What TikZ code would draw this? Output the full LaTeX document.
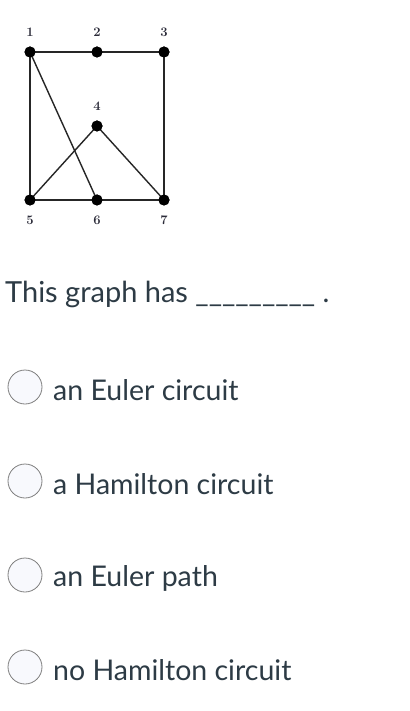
\documentclass[tikz,border=0pt]{standalone}
\usepackage{fontspec}
\setmainfont{Lato}
\newfontfamily\lmfont{Latin Modern Roman}
\definecolor{txt}{HTML}{2D3B45}
\definecolor{radiofill}{HTML}{F8F9FD}
\definecolor{radioedge}{HTML}{7F7F7F}
\definecolor{lbl}{HTML}{2A2A38}
\begin{document}
\begin{tikzpicture}[x=1pt,y=-1pt,
  vtx/.style={circle,fill=black,inner sep=0pt,minimum size=11pt},
  edge/.style={draw=black!85,line width=1.4pt},
  vlabel/.style={font=\lmfont\bfseries\fontsize{13}{15}\selectfont,text=lbl,inner sep=0pt},
  radio/.style={circle,draw=radioedge,fill=radiofill,line width=0.8pt,minimum size=34pt,inner sep=0pt},
  opt/.style={anchor=base west,font=\fontsize{28.5}{32}\selectfont,text=txt,inner sep=0pt},
]
\useasboundingbox (0,0) rectangle (409,711);
\fill[white] (0,0) rectangle (409,711);
% vertices
\node[vtx] (v1) at (30,52) {};
\node[vtx] (v2) at (97,52) {};
\node[vtx] (v3) at (164,52) {};
\node[vtx] (v4) at (97,126) {};
\node[vtx] (v5) at (30,200) {};
\node[vtx] (v6) at (97,200) {};
\node[vtx] (v7) at (164,200) {};
% labels
\node[vlabel] (l1) at (30,32) {1};
\node[vlabel] (l2) at (97,32) {2};
\node[vlabel] (l3) at (164,32) {3};
\node[vlabel] (l4) at (97,106) {4};
\node[vlabel] (l5) at (30,220) {5};
\node[vlabel] (l6) at (97,220) {6};
\node[vlabel] (l7) at (164,220) {7};
% edges
\draw[edge] (v1.center) -- (v2.center) -- (v3.center) -- (v7.center) -- (v6.center) -- (v5.center) -- (v1.center);
\draw[edge] (v1.center) -- (v6.center);
\draw[edge] (v5.center) -- (v4.center) -- (v7.center);
% redraw vertices on top
\foreach \v in {v1,v2,v3,v4,v5,v6,v7} \fill[black] (\v) circle (5.5pt);
% question
\node[anchor=base west,font=\fontsize{29}{34}\selectfont,text=txt,inner sep=0pt] (q) at (5,302) {This graph has \_\_\_\_\_\_\_\_\_ .};
% options
\node[radio] (r1) at (25,387) {};
\node[opt] (o1) at (53,400) {an Euler circuit};
\node[radio] (r2) at (25,481) {};
\node[opt] (o2) at (53,494) {a Hamilton circuit};
\node[radio] (r3) at (25,575) {};
\node[opt] (o3) at (53,586) {an Euler path};
\node[radio] (r4) at (25,667) {};
\node[opt] (o4) at (53,680) {no Hamilton circuit};
\end{tikzpicture}
\end{document}
